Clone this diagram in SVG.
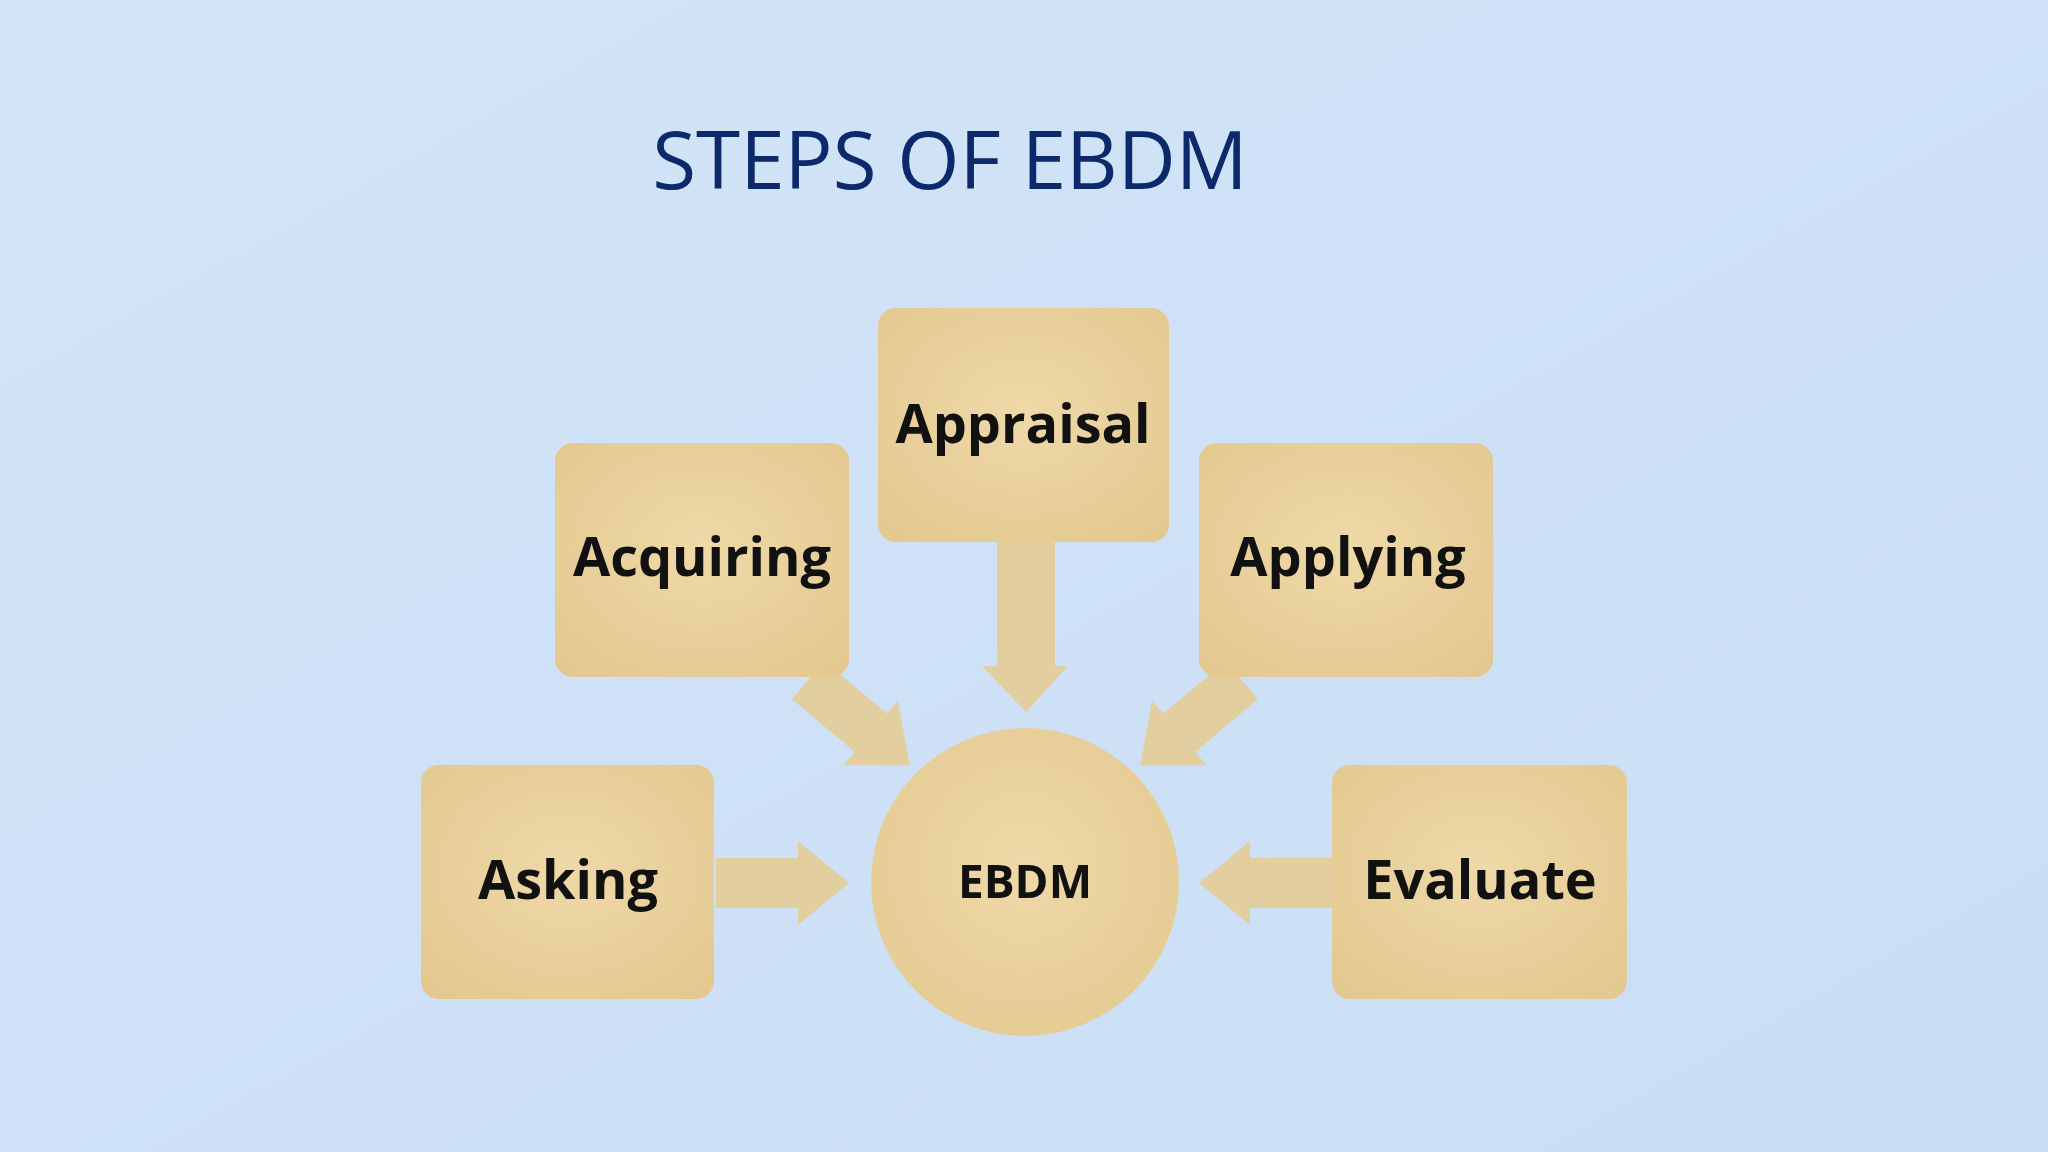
<svg xmlns="http://www.w3.org/2000/svg" width="2048" height="1152" viewBox="0 0 2048 1152">
<defs>
<style>
.box{fill:url(#tan)}
.lbl{font-family:"Open Sans","Liberation Sans",sans-serif;font-weight:bold;font-size:54px;fill:#111;text-anchor:middle}
.arr{fill:#e6cc97;opacity:0.9}
</style>
<radialGradient id="tan" cx="50%" cy="45%" r="70%">
<stop offset="0" stop-color="#efd9a8"/><stop offset="1" stop-color="#e3c88f"/>
</radialGradient>
<linearGradient id="bg" x1="0" y1="0" x2="1" y2="1">
<stop offset="0" stop-color="#d3e4f7"/><stop offset="1" stop-color="#c9def5"/>
</linearGradient>
<path id="ah" d="M0,-25 H82 V-42 L133,0 L82,42 V25 H0 Z"/>
</defs>
<rect width="2048" height="1152" fill="url(#bg)"/>
<text x="950" y="189" font-family="Open Sans, Liberation Sans, sans-serif" font-size="80" fill="#0c2a6b" text-anchor="middle">STEPS OF EBDM</text>
<g id="connectors" class="arr">
<use href="#ah" transform="translate(716,883)"/>
<use href="#ah" transform="translate(1332,883) rotate(180)"/>
<path d="M997,542 H1055 V666 H1068 L1026,712 L982,666 H997 Z"/>
<use href="#ah" transform="translate(808,680) rotate(40)"/>
<use href="#ah" transform="translate(1242,680) rotate(140)"/>
</g>
<g id="appraisal"><rect class="box" x="878" y="308" width="291" height="234" rx="18"/><text class="lbl" x="1023" y="443">Appraisal</text></g>
<g id="acquiring"><rect class="box" x="555" y="443" width="294" height="234" rx="18"/><text class="lbl" x="702" y="576">Acquiring</text></g>
<g id="applying"><rect class="box" x="1199" y="443" width="294" height="234" rx="18"/><text class="lbl" x="1348" y="576">Applying</text></g>
<g id="asking"><rect class="box" x="421" y="765" width="293" height="234" rx="18"/><text class="lbl" x="568" y="899">Asking</text></g>
<g id="evaluate"><rect class="box" x="1332" y="765" width="295" height="234" rx="18"/><text class="lbl" x="1480" y="899">Evaluate</text></g>
<g id="ebdm"><circle class="box" cx="1025" cy="882" r="154"/><text class="lbl" x="1025" y="898" style="font-size:46px">EBDM</text></g>
</svg>
